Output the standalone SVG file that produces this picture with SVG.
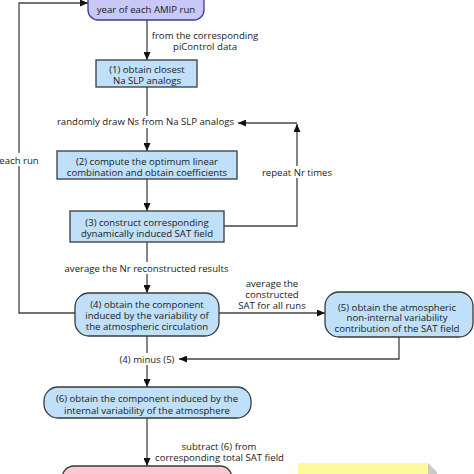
<svg xmlns="http://www.w3.org/2000/svg" width="474" height="474" viewBox="0 0 474 474">
<defs>
<marker id="ah" markerWidth="8" markerHeight="7" refX="8" refY="3.5" orient="auto" markerUnits="userSpaceOnUse">
<path d="M0,0 L8,3.5 L0,7 Z" fill="#111"/>
</marker>
<style>
text{font-family:"Open Sans","DejaVu Sans",sans-serif;font-size:9.6px;fill:#1a1a1a;text-anchor:middle}
.node{fill:#bfe0f8;stroke:#3a3a3a;stroke-width:1.3}
.top{fill:#c8c8f6;stroke:#3c3c90;stroke-width:1.3}
.pink{fill:#f9c9d2;stroke:#3a3a3a;stroke-width:1.3}
.edge{fill:none;stroke:#444;stroke-width:1.3}
.arr{marker-end:url(#ah)}
.bg{fill:#fff}
</style>
</defs>
<rect width="474" height="474" fill="#fff"/>
<g id="connectors">
<path class="edge arr" d="M147,20 V60"/>
<path class="edge arr" d="M147,87 V151"/>
<path class="edge arr" d="M147,179 V211"/>
<path class="edge arr" d="M147,242 V293"/>
<path class="edge arr" d="M147,336 V387"/>
<path class="edge arr" d="M147,418 V466"/>
<path class="edge arr" d="M219,313 H325"/>
<path class="edge arr" d="M399,337 V359 H179"/>
<path class="edge arr" d="M75,313 H19 V3 H88"/>
<path class="edge arr" d="M224,226 H297 V124"/>
<path class="edge arr" d="M297,123 H238"/>
<rect class="bg" x="110" y="116" width="124" height="12"/>
<rect class="bg" x="259" y="166" width="76" height="12"/>
<rect class="bg" x="0" y="153" width="40" height="13"/>
<rect class="bg" x="60" y="262" width="173" height="12"/>
<rect class="bg" x="117" y="353" width="60" height="12"/>
<text x="205" y="38.5">from the corresponding</text>
<text x="205" y="49.5">piControl data</text>
<text x="145.5" y="124.5">randomly draw Ns from Na SLP analogs</text>
<text x="297" y="175.5">repeat Nr times</text>
<text x="19" y="163.5">each run</text>
<text x="146.5" y="271.5">average the Nr reconstructed results</text>
<text x="272" y="286.5">average the</text>
<text x="272" y="297.5">constructed</text>
<text x="272" y="308.5">SAT for all runs</text>
<text x="147" y="362.5">(4) minus (5)</text>
<text x="219" y="449.5">subtract (6) from</text>
<text x="219.5" y="460.5">corresponding total SAT field</text>
</g>
<g id="node-top">
<rect class="top" x="88" y="-20" width="116" height="40" rx="10"/>
<text x="146" y="13">year of each AMIP run</text>
</g>
<g id="node-1">
<rect class="node" x="96" y="60" width="101" height="27"/>
<text x="147" y="72.5">(1) obtain closest</text>
<text x="147" y="83.5">Na SLP analogs</text>
</g>
<g id="node-2">
<rect class="node" x="57" y="151" width="180" height="28"/>
<text x="147" y="164.5">(2) compute the optimum linear</text>
<text x="147" y="175.5">combination and obtain coefficients</text>
</g>
<g id="node-3">
<rect class="node" x="70" y="211" width="154" height="31"/>
<text x="147" y="225.5">(3) construct corresponding</text>
<text x="147" y="236.5">dynamically induced SAT field</text>
</g>
<g id="node-4">
<rect class="node" x="75" y="293" width="144" height="43" rx="14"/>
<text x="147" y="307.5">(4) obtain the component</text>
<text x="147" y="318.5">induced by the variability of</text>
<text x="147" y="330">the atmospheric circulation</text>
</g>
<g id="node-5">
<rect class="node" x="325" y="292" width="148" height="45" rx="14"/>
<text x="397" y="310.5">(5) obtain the atmospheric</text>
<text x="397" y="321">non-internal variability</text>
<text x="397" y="331.5">contribution of the SAT field</text>
</g>
<g id="node-6">
<rect class="node" x="44" y="387" width="207" height="31" rx="14"/>
<text x="147" y="401.5">(6) obtain the component induced by the</text>
<text x="147" y="413.5">internal variability of the atmosphere</text>
</g>
<g id="node-7">
<rect class="pink" x="62" y="466" width="170" height="30" rx="12"/>
</g>
<g id="note">
<rect x="298" y="463" width="130" height="15" fill="#fdfa9e"/>
<polygon points="428,463 437,472 437,478 428,478" fill="#c9c9c9"/>
</g>
</svg>
